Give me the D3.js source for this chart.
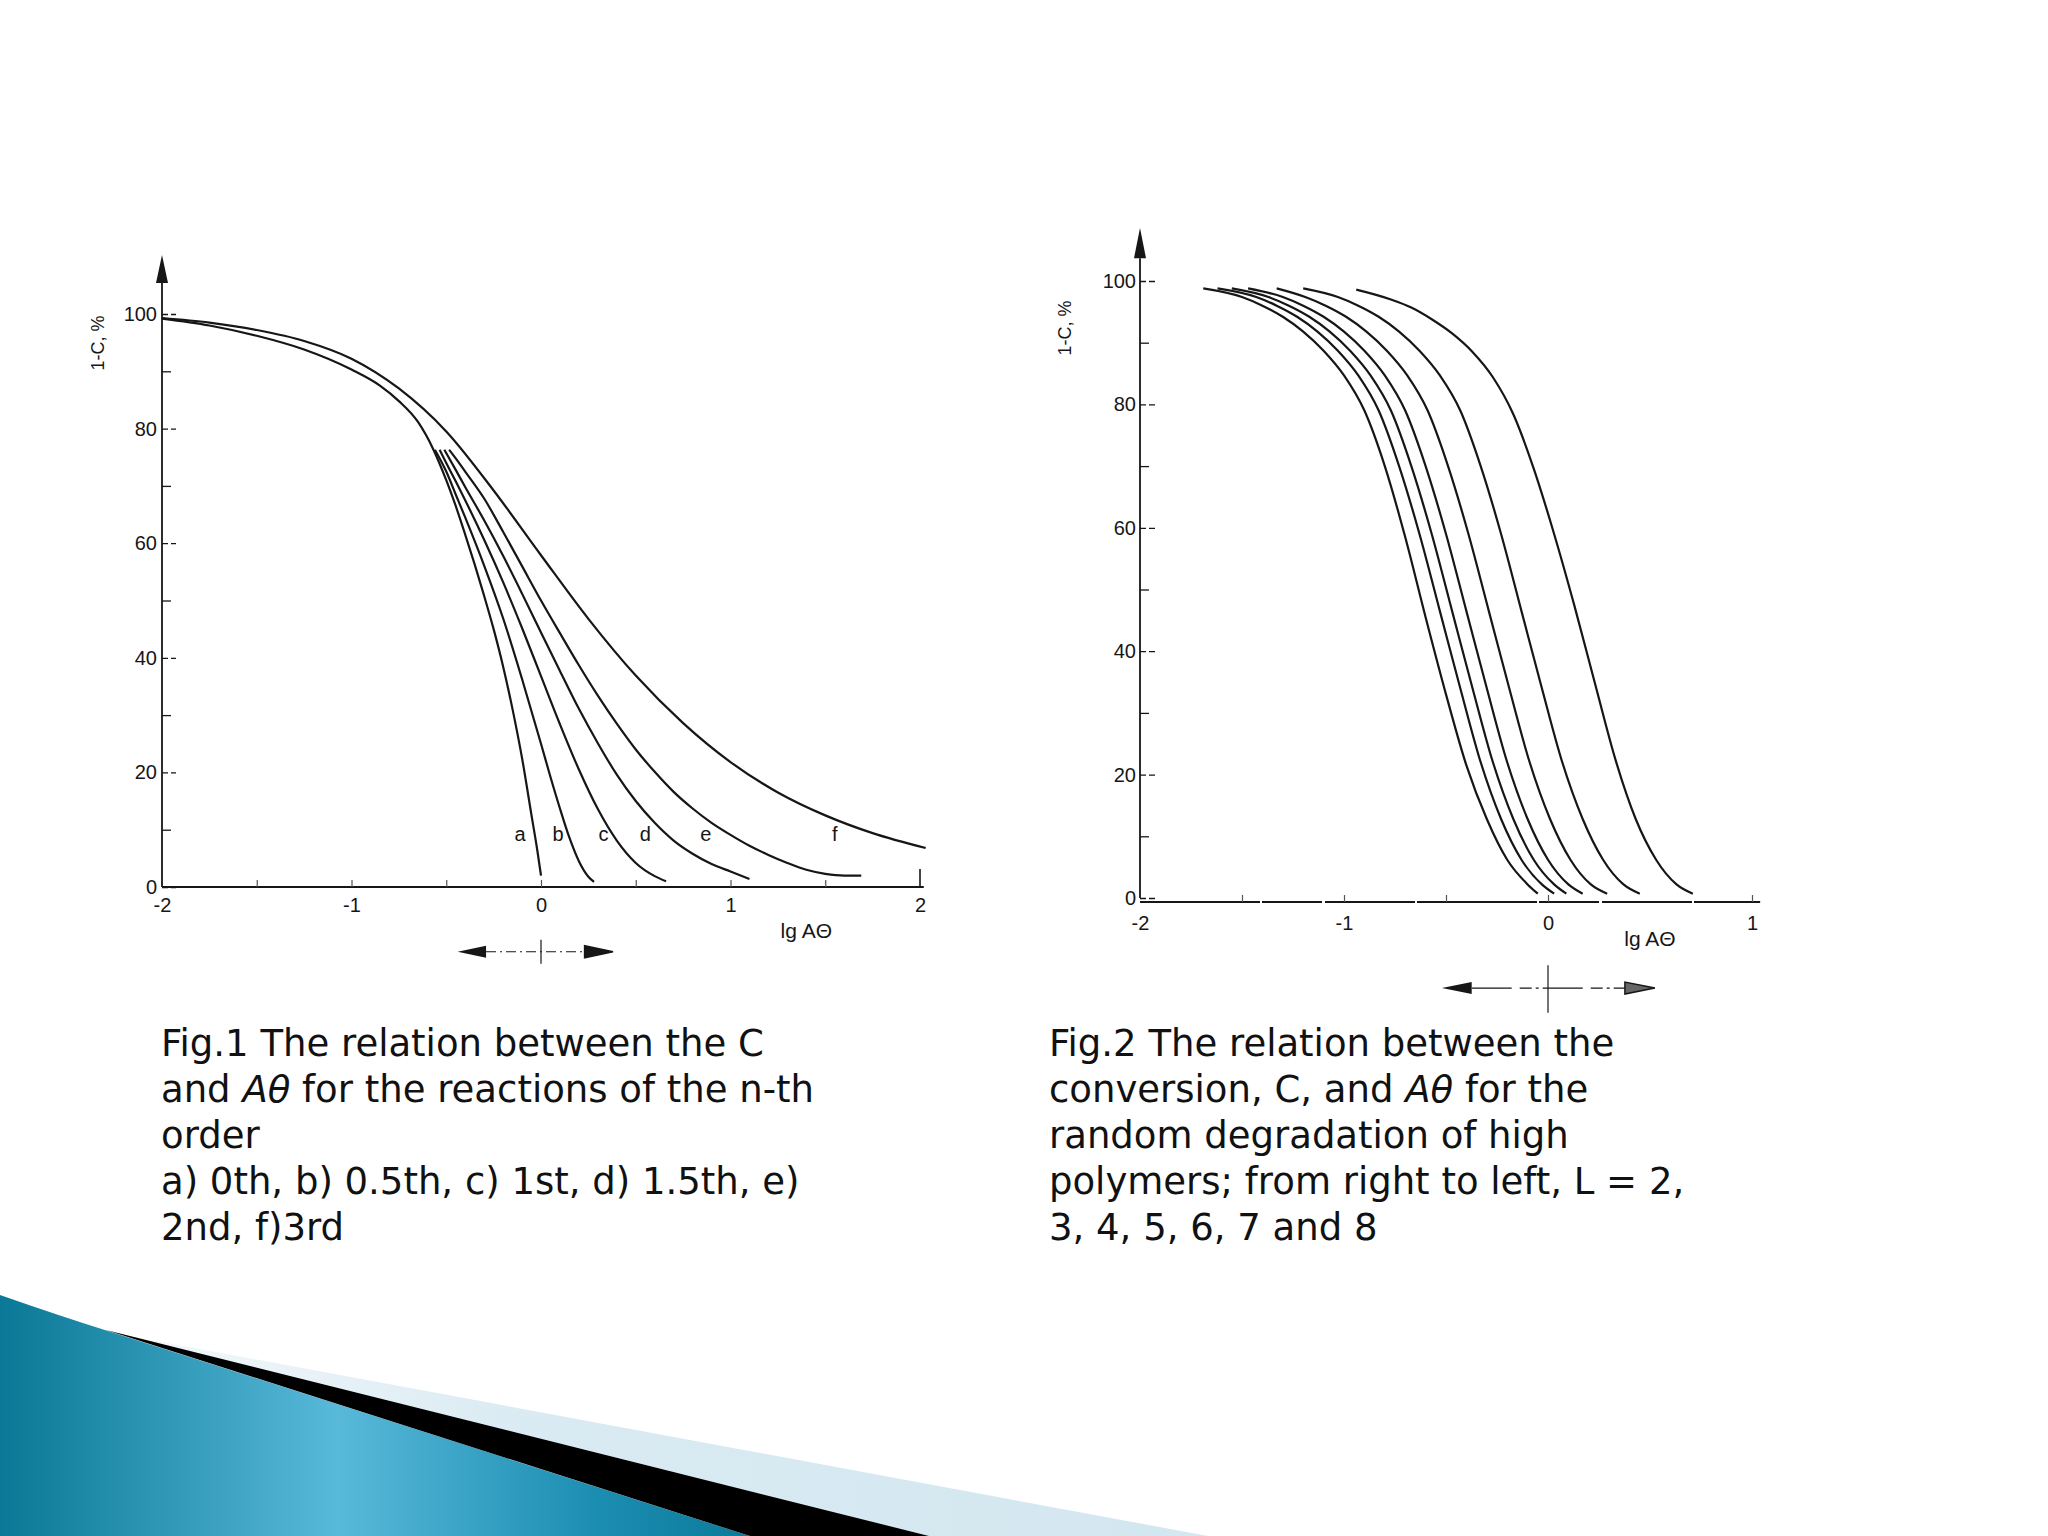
<!DOCTYPE html>
<html>
<head>
<meta charset="utf-8">
<script src="https://cdn.jsdelivr.net/npm/d3@7"></script>
<style>
  html, body { margin: 0; padding: 0; background: #fff; }
  svg { display: block; }
</style>
</head>
<body>
<svg id="slide" width="2048" height="1536"></svg>
<script>
/////////////////////////////////////////////////////
///////// data /////
/////////////////////////////////////////////////////

// Fig.1 : [lg A0, 1-C %] for reaction orders a..f
const curveA = [[-2, 99.2], [-1.75, 98.0], [-1.5, 96.2], [-1.25, 93.8], [-1.0, 90.3], [-0.85, 87.5],
  [-0.75, 84.8], [-0.65, 81.2], [-0.57, 76.5], [-0.5, 71.0], [-0.45, 66.5], [-0.4, 61.5], [-0.35, 56.3],
  [-0.3, 50.8], [-0.25, 45.0], [-0.2, 38.5], [-0.15, 31.0], [-0.1, 22.5], [-0.05, 12.5], [-0.02, 6.5], [0, 2.0]];
const curveB = [[-0.56, 76.3], [-0.5, 72.5], [-0.45, 68.5], [-0.4, 64.5], [-0.3, 56.1], [-0.2, 46.9],
  [-0.1, 36.3], [0, 25.0], [0.05, 19.2], [0.1, 13.7], [0.15, 8.6], [0.2, 4.5], [0.25, 1.8], [0.28, 0.9]];
const curveC = [[-0.535, 76.3], [-0.5, 74.0], [-0.45, 70.8], [-0.4, 67.5], [-0.3, 60.6], [-0.2, 53.2],
  [-0.1, 45.2], [0, 36.8], [0.1, 28.4], [0.2, 20.5], [0.3, 13.6], [0.4, 8.1], [0.5, 4.2], [0.6, 1.9], [0.66, 1.0]];
const curveD = [[-0.51, 76.3], [-0.45, 72.8], [-0.4, 69.8], [-0.3, 64.0], [-0.2, 57.8], [-0.1, 51.2],
  [0, 44.4], [0.1, 37.7], [0.2, 31.1], [0.3, 25.1], [0.4, 19.6], [0.5, 15.0], [0.6, 11.2], [0.7, 8.1],
  [0.8, 5.8], [0.9, 4.0], [1.0, 2.7], [1.1, 1.4]];
const curveE = [[-0.485, 76.3], [-0.45, 74.8], [-0.4, 72.5], [-0.3, 67.8], [-0.2, 62.0], [-0.1, 56.0],
  [0, 50.0], [0.1, 44.3], [0.2, 38.7], [0.3, 33.4], [0.4, 28.5], [0.5, 24.0], [0.6, 20.1], [0.7, 16.6],
  [0.8, 13.7], [0.9, 11.2], [1.0, 9.1], [1.1, 7.2], [1.2, 5.6], [1.3, 4.2], [1.4, 3.0], [1.5, 2.3],
  [1.6, 2.0], [1.69, 2.0]];
const curveF = [[-2, 99.3], [-1.75, 98.5], [-1.5, 97.2], [-1.25, 95.3], [-1.0, 92.2], [-0.75, 87.0],
  [-0.5, 79.5], [-0.25, 69.2], [0, 57.9], [0.25, 46.8], [0.5, 36.9], [0.75, 28.6], [1.0, 21.8],
  [1.25, 16.5], [1.5, 12.5], [1.75, 9.4], [2.03, 6.8]];
const fig1Curves = [curveA, curveB, curveC, curveD, curveE, curveF];
const fig1Letters = ["a", "b", "c", "d", "e", "f"];
const fig1LetterX = [-0.11, 0.09, 0.33, 0.55, 0.87, 1.55];
const fig1LetterY = 9.2;
const fig1XTicks = [-2, -1, 0, 1, 2];
const fig1XMinor = [-1.5, -1, -0.5, 0, 0.5, 1, 1.5];
const fig1YTicks = [0, 20, 40, 60, 80, 100];
const fig1YMinor = [10, 30, 50, 70, 90];

// Fig.2 : [lg A0, 1-C %] for random degradation, L = 2 .. 8
const curveL2 = [[-0.94, 98.6], [-0.77, 97.0], [-0.67, 95.7], [-0.57, 93.8], [-0.47, 91.5], [-0.37, 88.5],
  [-0.27, 84.4], [-0.17, 78.4], [-0.07, 69.6], [0.03, 59.0], [0.13, 47.3], [0.23, 34.8], [0.33, 22.5],
  [0.43, 12.8], [0.53, 6.2], [0.63, 2.2], [0.71, 0.7]];
const curveL3 = [[-1.2, 98.8], [-1.03, 97.4], [-0.93, 96.0], [-0.83, 94.2], [-0.73, 91.8], [-0.63, 88.7],
  [-0.53, 84.7], [-0.43, 79.0], [-0.33, 70.0], [-0.23, 59.0], [-0.13, 46.5], [-0.03, 34.0], [0.07, 22.0],
  [0.17, 12.8], [0.27, 6.2], [0.37, 2.2], [0.45, 0.7]];
const curveL4 = [[-1.33, 98.8], [-1.19, 97.4], [-1.09, 96.0], [-0.99, 94.2], [-0.89, 91.8], [-0.79, 88.7],
  [-0.69, 84.7], [-0.59, 79.0], [-0.49, 70.0], [-0.39, 59.0], [-0.29, 46.5], [-0.19, 34.0], [-0.09, 22.0],
  [0.01, 12.8], [0.11, 6.2], [0.21, 2.2], [0.29, 0.7]];
const curveL5 = [[-1.47, 98.8], [-1.3, 97.4], [-1.2, 96.0], [-1.1, 94.2], [-1.0, 91.8], [-0.9, 88.7],
  [-0.8, 84.7], [-0.7, 79.0], [-0.6, 70.0], [-0.5, 59.0], [-0.4, 46.5], [-0.3, 34.0], [-0.2, 22.0],
  [-0.1, 12.8], [0.0, 6.2], [0.1, 2.2], [0.17, 0.7]];
const curveL6 = [[-1.55, 98.8], [-1.37, 97.4], [-1.27, 96.0], [-1.17, 94.2], [-1.07, 91.8], [-0.97, 88.7],
  [-0.87, 84.7], [-0.77, 79.0], [-0.67, 70.0], [-0.57, 59.0], [-0.47, 46.5], [-0.37, 34.0], [-0.27, 22.0],
  [-0.17, 12.8], [-0.07, 6.2], [0.03, 2.2], [0.09, 0.7]];
const curveL7 = [[-1.62, 98.8], [-1.43, 97.4], [-1.33, 96.0], [-1.23, 94.2], [-1.13, 91.8], [-1.03, 88.7],
  [-0.93, 84.7], [-0.83, 79.0], [-0.73, 70.0], [-0.63, 59.0], [-0.53, 46.5], [-0.43, 34.0], [-0.33, 22.0],
  [-0.23, 12.8], [-0.13, 6.2], [-0.03, 2.2], [0.03, 0.7]];
const curveL8 = [[-1.69, 98.8], [-1.5, 97.4], [-1.4, 96.0], [-1.3, 94.2], [-1.2, 91.8], [-1.1, 88.7],
  [-1.0, 84.7], [-0.9, 79.0], [-0.8, 70.0], [-0.7, 58.5], [-0.6, 45.5], [-0.5, 33.0], [-0.4, 21.5],
  [-0.3, 12.8], [-0.2, 6.2], [-0.1, 2.2], [-0.05, 0.7]];
const fig2Curves = [curveL2, curveL3, curveL4, curveL5, curveL6, curveL7, curveL8];
const fig2XTicks = [-2, -1, 0, 1];
const fig2XMinor = [-1.5, -1, -0.5, 0, 1];
const fig2YTicks = [0, 20, 40, 60, 80, 100];
const fig2YMinor = [10, 30, 50, 70, 90];

// captions (*...* = italic)
const captionLeft = [
  "Fig.1 The relation between the C",
  "and *A\u03b8* for the reactions of the n-th",
  "order",
  "a) 0th, b) 0.5th, c) 1st, d) 1.5th, e)",
  "2nd, f)3rd"
];
const captionRight = [
  "Fig.2 The relation between the",
  "conversion, C, and *A\u03b8* for the",
  "random degradation of high",
  "polymers; from right to left, L = 2,",
  "3, 4, 5, 6, 7 and 8"
];

/////////////////////////////////////////////////////
//////////////////// drawing ////////////////////////
/////////////////////////////////////////////////////
const svg = d3.select('#slide');
const ink = '#161616';
const chartFont = '"Liberation Sans", Arial, sans-serif';

// bottom-left theme swoosh (decoration only)
const defs = svg.append('defs');
const blue = defs.append('linearGradient').attr('id', 'swooshBlue')
  .attr('x1', 0).attr('x2', 1).attr('y1', 0).attr('y2', 0);
blue.append('stop').attr('offset', '0%').attr('stop-color', '#0a7896');
blue.append('stop').attr('offset', '45%').attr('stop-color', '#58b9da');
blue.append('stop').attr('offset', '80%').attr('stop-color', '#1b8db1');
blue.append('stop').attr('offset', '100%').attr('stop-color', '#0c7b9b');
const pale = defs.append('linearGradient').attr('id', 'swooshPale')
  .attr('x1', 0).attr('x2', 1).attr('y1', 0).attr('y2', 0);
pale.append('stop').attr('offset', '0%').attr('stop-color', '#f4f9fb');
pale.append('stop').attr('offset', '40%').attr('stop-color', '#d9eaf2');
pale.append('stop').attr('offset', '100%').attr('stop-color', '#d3e7f0');

const deco = svg.append('g');
deco.append('path').attr('d', 'M108,1332 L1208,1536 L929,1536 Z').attr('fill', 'url(#swooshPale)');
deco.append('path').attr('d', 'M0,1295 Q60,1316 108,1331 L750,1536 L0,1536 Z').attr('fill', 'url(#swooshBlue)');
deco.append('path').attr('d', 'M106,1330 L929,1536 L750,1536 Z').attr('fill', '#000');

const line = (x, y) => d3.line()
  .x(d => x(d[0]))
  .y(d => y(d[1]))
  .curve(d3.curveMonotoneX);

function drawPanel(p) {
  const g = svg.append('g');
  const { x, y } = p;
  const x0 = x(p.xDomain[0]);

  // y axis line with arrow on top
  g.append('line').attr('x1', x0).attr('x2', x0)
    .attr('y1', y(0)).attr('y2', y(p.arrowBase))
    .attr('stroke', ink).attr('stroke-width', 1.8);
  g.append('path')
    .attr('d', `M${x0},${y(p.arrowTip)} L${x0 - 6},${y(p.arrowBase)} L${x0 + 6},${y(p.arrowBase)} Z`)
    .attr('fill', ink);

  // y ticks (inside) + labels (outside)
  const yMajor = g.append('g').attr('transform', `translate(${x0},0)`)
    .call(d3.axisLeft(y).tickValues(p.yTicks).tickSizeInner(-p.yTickLen).tickSizeOuter(0).tickPadding(p.yPad));
  yMajor.select('.domain').remove();
  yMajor.selectAll('line').attr('stroke', ink).attr('stroke-width', 1.3).attr('stroke-dasharray', '6 3');
  yMajor.selectAll('text').attr('font-family', chartFont).attr('font-size', 20).attr('fill', ink);

  const yMin = g.append('g').attr('transform', `translate(${x0},0)`)
    .call(d3.axisLeft(y).tickValues(p.yMinor).tickSizeInner(-9).tickSizeOuter(0));
  yMin.select('.domain').remove();
  yMin.selectAll('text').remove();
  yMin.selectAll('line').attr('stroke', ink).attr('stroke-width', 1.3);

  // x axis
  g.append('line').attr('x1', x0).attr('x2', x(p.xEnd))
    .attr('y1', y(0) + p.axisDrop).attr('y2', y(0) + p.axisDrop)
    .attr('stroke', ink).attr('stroke-width', 1.8)
    .attr('stroke-dasharray', p.axisDash);
  const xMajor = g.append('g').attr('transform', `translate(0,${y(0) + p.axisDrop})`)
    .call(d3.axisBottom(x).tickValues(p.xTicks).tickSize(0).tickPadding(p.xPad)
      .tickFormat(d => d < 0 ? '-' + Math.abs(d) : String(d)));
  xMajor.select('.domain').remove();
  xMajor.selectAll('text').attr('font-family', chartFont).attr('font-size', 20).attr('fill', ink);

  const xMin = g.append('g').attr('transform', `translate(0,${y(0) + p.axisDrop})`)
    .call(d3.axisBottom(x).tickValues(p.xMinor).tickSizeInner(-7).tickSizeOuter(0));
  xMin.select('.domain').remove();
  xMin.selectAll('text').remove();
  xMin.selectAll('line').attr('stroke', '#555').attr('stroke-width', 1.2);
  if (p.endTick) {
    g.append('line').attr('x1', x(p.endTick)).attr('x2', x(p.endTick))
      .attr('y1', y(0) + p.axisDrop).attr('y2', y(0) + p.axisDrop - 18)
      .attr('stroke', ink).attr('stroke-width', 1.6);
  }

  // curves
  const path = line(x, y);
  g.selectAll('path.curve').data(p.curves).join('path')
    .attr('class', 'curve')
    .attr('d', path)
    .attr('fill', 'none')
    .attr('stroke', ink)
    .attr('stroke-width', 2.2);

  // axis titles
  g.append('text')
    .attr('transform', `translate(${p.yTitle[0]},${p.yTitle[1]}) rotate(-90)`)
    .attr('text-anchor', 'middle')
    .attr('font-family', chartFont).attr('font-size', 18).attr('fill', ink)
    .text('1-C, %');
  g.append('text')
    .attr('x', x(p.xTitle[0])).attr('y', p.xTitle[1])
    .attr('text-anchor', 'middle')
    .attr('font-family', chartFont).attr('font-size', 21).attr('fill', ink)
    .text('lg A\u0398');

  // direction arrows under the axis
  const ay = y(p.arrows.v);
  const a = p.arrows;
  g.append('path')
    .attr('d', `M${x(a.l[0])},${ay} L${x(a.l[1])},${ay - 6} L${x(a.l[1])},${ay + 6} Z`)
    .attr('fill', ink);
  g.append('path')
    .attr('d', `M${x(a.r[1])},${ay} L${x(a.r[0])},${ay - 6} L${x(a.r[0])},${ay + 6} Z`)
    .attr('fill', a.rFill).attr('stroke', ink).attr('stroke-width', 1.5);
  g.append('line').attr('x1', x(a.l[1])).attr('x2', x(a.r[0]))
    .attr('y1', ay).attr('y2', ay)
    .attr('stroke', ink).attr('stroke-width', 1.2).attr('stroke-dasharray', a.dash);
  g.append('line').attr('x1', x(0)).attr('x2', x(0))
    .attr('y1', y(a.tick[0])).attr('y2', y(a.tick[1]))
    .attr('stroke', ink).attr('stroke-width', 1.2);

  return g;
}

// Fig.1 panel
const x1 = d3.scaleLinear().domain([-2, 2]).range([162, 920]);
const y1 = d3.scaleLinear().domain([0, 100]).range([887, 314]);
const g1 = drawPanel({
  x: x1, y: y1, xDomain: [-2, 2], xEnd: 2.02,
  xTicks: fig1XTicks, xMinor: fig1XMinor, endTick: 2,
  yTicks: fig1YTicks, yMinor: fig1YMinor, yTickLen: 14, yPad: 5,
  xPad: 11, axisDrop: 0, axisDash: null,
  arrowTip: 110.3, arrowBase: 105.4,
  curves: fig1Curves,
  yTitle: [104, 343], xTitle: [1.40, 938],
  arrows: { v: -11.3, l: [-0.44, -0.29], r: [0.23, 0.38], tick: [-9.2, -13.4], dash: '10 4 2 4', rFill: ink }
});
g1.selectAll('text.letter').data(fig1Letters).join('text')
  .attr('class', 'letter')
  .attr('x', (d, i) => x1(fig1LetterX[i]))
  .attr('y', y1(fig1LetterY) + 7)
  .attr('text-anchor', 'middle')
  .attr('font-family', chartFont).attr('font-size', 20).attr('fill', ink)
  .text(d => d);

// Fig.2 panel
const x2 = d3.scaleLinear().domain([-2, 1]).range([1140, 1752]);
const y2 = d3.scaleLinear().domain([0, 100]).range([898, 281]);
drawPanel({
  x: x2, y: y2, xDomain: [-2, 1], xEnd: 1.04,
  xTicks: fig2XTicks, xMinor: fig2XMinor, endTick: null,
  yTicks: fig2YTicks, yMinor: fig2YMinor, yTickLen: 18, yPad: 4,
  xPad: 14, axisDrop: 4, axisDash: '120 2 60 3 90 2',
  arrowTip: 108.6, arrowBase: 103.7,
  curves: fig2Curves,
  yTitle: [1071, 328], xTitle: [0.50, 946],
  arrows: { v: -14.6, l: [-0.52, -0.374], r: [0.377, 0.524], tick: [-10.9, -18.6], dash: '40 8 12 4 3 4', rFill: '#666' }
});

// captions: one text per line so lines stay 46px apart without overlapping
function caption(lines, x0, y0) {
  const g = svg.append('g')
    .attr('font-family', '"DejaVu Sans", sans-serif')
    .attr('font-size', 37).attr('fill', '#111');
  lines.forEach((ln, i) => {
    const t = g.append('text').attr('x', x0).attr('y', y0 + i * 46);
    ln.split('*').forEach((s, j) => {
      if (!s) return;
      const ts = t.append('tspan').text(s);
      if (j % 2 === 1) ts.attr('font-style', 'italic');
    });
  });
}
caption(captionLeft, 161, 1056);
caption(captionRight, 1049, 1056);
</script>
</body>
</html>
